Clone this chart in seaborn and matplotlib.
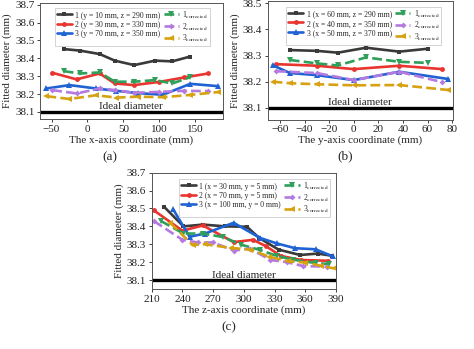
import matplotlib
matplotlib.use("Agg")
import matplotlib.pyplot as plt
import seaborn as sns
import pandas as pd

# ---------------- data ----------------
# panel (a): x-axis coordinate
xa1 = [-33, -10, 17, 38, 65, 94, 118, 142]
ya1 = [38.452, 38.443, 38.424, 38.387, 38.362, 38.387, 38.383, 38.409]
xa2 = [-49, -15, 17, 38, 65, 100, 135, 168]
ya2 = [38.319, 38.282, 38.315, 38.259, 38.250, 38.268, 38.293, 38.315]
xa3 = [-57, -25, 12, 40, 70, 105, 143, 182]
ya3 = [38.231, 38.250, 38.231, 38.218, 38.205, 38.196, 38.257, 38.244]
ya1c = [38.328, 38.315, 38.321, 38.269, 38.269, 38.278, 38.259, 38.293]
ya2c = [38.222, 38.203, 38.231, 38.222, 38.207, 38.212, 38.218, 38.216]
ya3c = [38.188, 38.172, 38.193, 38.180, 38.185, 38.182, 38.195, 38.211]
labels_a = ["1 (y = 10 mm, z = 290 mm)", "2 (y = 30 mm, z = 330 mm)",
            "3 (y = 70 mm, z = 350 mm)"]

# panel (b): y-axis coordinate
xb1 = [-52, -30, -13, 10, 37, 60]
yb1 = [38.321, 38.318, 38.311, 38.330, 38.315, 38.326]
xb2 = [-63, -30, 0, 37, 72]
yb2 = [38.267, 38.261, 38.248, 38.261, 38.248]
xb3 = [-66, -52, -30, 0, 37, 77]
yb3 = [38.263, 38.233, 38.225, 38.206, 38.238, 38.210]
yb1c = [38.283, 38.270, 38.262, 38.293, 38.276, 38.272]
yb2c = [38.240, 38.233, 38.206, 38.238, 38.198]
yb3c = [38.200, 38.194, 38.190, 38.186, 38.187, 38.168]
labels_b = ["1 (x = 60 mm, z = 290 mm)", "2 (x = 40 mm, z = 350 mm)",
            "3 (x = 50 mm, z = 370 mm)"]

# panel (c): z-axis coordinate
xc1 = [222, 241, 260, 282, 303, 315, 334, 355, 372, 386]
yc1 = [38.510, 38.400, 38.410, 38.400, 38.398, 38.335, 38.270, 38.240, 38.248, 38.236]
xc2 = [212, 240, 260, 290, 309, 322, 336, 356, 382]
yc2 = [38.490, 38.376, 38.405, 38.312, 38.325, 38.288, 38.235, 38.212, 38.208]
xc3 = [231, 247, 262, 290, 316, 332, 350, 370, 387]
yc3 = [38.495, 38.342, 38.360, 38.420, 38.335, 38.305, 38.278, 38.272, 38.232]
xc1c = [219, 241, 260, 280, 297, 316, 332, 348, 370, 383]
yc1c = [38.430, 38.360, 38.360, 38.340, 38.298, 38.268, 38.235, 38.214, 38.195, 38.190]
xc2c = [212, 240, 255, 270, 290, 306, 326, 342, 358, 381]
yc2c = [38.430, 38.325, 38.310, 38.310, 38.265, 38.276, 38.212, 38.200, 38.178, 38.175]
xc3c = [228, 250, 262, 287, 306, 325, 343, 360, 375, 388]
yc3c = [38.420, 38.296, 38.300, 38.280, 38.270, 38.230, 38.205, 38.198, 38.180, 38.165]
labels_c = ["1 (x = 30 mm, y = 5 mm)", "2 (x = 70 mm, y = 5 mm)",
            "3 (x = 100 mm, y = 0 mm)"]

corr_labels = [r"1$_{\mathrm{corrected}}$", r"2$_{\mathrm{corrected}}$",
               r"3$_{\mathrm{corrected}}$"]

# ---------------- style ----------------
sns.set_theme(style="ticks")
plt.rcParams["font.family"] = ["Liberation Serif", "DejaVu Serif"]
plt.rcParams["mathtext.fontset"] = "stix"

colors = ["#3a3a3a", "#e8352f", "#1f62d4", "#2f9f5a", "#b47ae0", "#d6a212"]
markers = ["s", "o", "^", "v", "D", "<"]
msizes = [3.5, 3.5, 4, 4, 3, 4]

fig = plt.figure(figsize=(4.74, 3.49), dpi=100)
W, H = 474.0, 349.0


def px_axes(l, t, r, b):
    return fig.add_axes([l / W, 1 - b / H, (r - l) / W, (b - t) / H])


def draw(ax, series, labels, xlim, ylim, xticks, yticks, xlabel, legend_anchor):
    for i, (x, y) in enumerate(series):
        ls = "-" if i < 3 else "--"
        sns.lineplot(x=x, y=y, ax=ax, color=colors[i], marker=markers[i],
                     markersize=msizes[i], markeredgewidth=0, linewidth=1.9,
                     linestyle=ls, label=labels[i], sort=False, estimator=None)
    ax.axhline(38.1, color="black", linewidth=2.4, zorder=1)
    ax.annotate("Ideal diameter", xy=(0.5, 38.1),
                xycoords=("axes fraction", "data"), xytext=(0, 1.8),
                textcoords="offset points", ha="center", va="baseline",
                fontsize=8)
    ax.set_xlim(*xlim)
    ax.set_ylim(*ylim)
    ax.set_xticks(xticks)
    ax.set_yticks(yticks)
    ax.set_xlabel(xlabel, fontsize=8, labelpad=1)
    ax.set_ylabel("Fitted diameter (mm)", fontsize=8, labelpad=2)
    ax.tick_params(direction="out", length=2.5, width=0.6, labelsize=8,
                   pad=1.5, colors="#222222")
    for sp in ax.spines.values():
        sp.set_visible(True)
        sp.set_color("#555555")
        sp.set_linewidth(0.7)
    h, l = ax.get_legend_handles_labels()
    ax.legend(h, l, ncol=2, loc="upper right", bbox_to_anchor=legend_anchor,
              fontsize=5.5, frameon=True, fancybox=False, edgecolor="#cccccc",
              framealpha=1, borderpad=0.25, labelspacing=0.05,
              handleheight=1.35, handlelength=2.0, handletextpad=0.4,
              columnspacing=0.45)
    ax.get_legend().get_frame().set_linewidth(0.6)


# panel (a)
axa = px_axes(40, 3, 222.6, 119)
draw(axa, [(xa1, ya1), (xa2, ya2), (xa3, ya3), (xa1, ya1c), (xa2, ya2c), (xa3, ya3c)],
     labels_a + corr_labels, (-66, 188), (38.06, 38.71),
     [-50, 0, 50, 100, 150], [38.1, 38.2, 38.3, 38.4, 38.5, 38.6, 38.7],
     "The x-axis coordinate (mm)", (0.95, 0.99))

# panel (b)
axb = px_axes(267.7, 1, 453, 119.5)
draw(axb, [(xb1, yb1), (xb2, yb2), (xb3, yb3), (xb1, yb1c), (xb2, yb2c), (xb3, yb3c)],
     labels_b + corr_labels, (-70, 80.7), (38.055, 38.509),
     [-60, -40, -20, 0, 20, 40, 60, 80], [38.1, 38.2, 38.3, 38.4, 38.5],
     "The y-axis coordinate (mm)", (0.957, 0.985))

# panel (c)
axc = px_axes(151.7, 172.7, 336, 289)
draw(axc, [(xc1, yc1), (xc2, yc2), (xc3, yc3), (xc1c, yc1c), (xc2c, yc2c), (xc3c, yc3c)],
     labels_c + corr_labels, (210, 390), (38.05, 38.7),
     [210, 240, 270, 300, 330, 360, 390], [38.1, 38.2, 38.3, 38.4, 38.5, 38.6, 38.7],
     "The z-axis coordinate (mm)", (0.99, 0.98))

fig.text(110 / W, 1 - 157.5 / H, "(a)", ha="center", va="center", fontsize=9.5)
fig.text(345 / W, 1 - 156.5 / H, "(b)", ha="center", va="center", fontsize=9.5)
fig.text(229 / W, 1 - 327 / H, "(c)", ha="center", va="center", fontsize=9.5)

fig.savefig("out.png", dpi=100)
